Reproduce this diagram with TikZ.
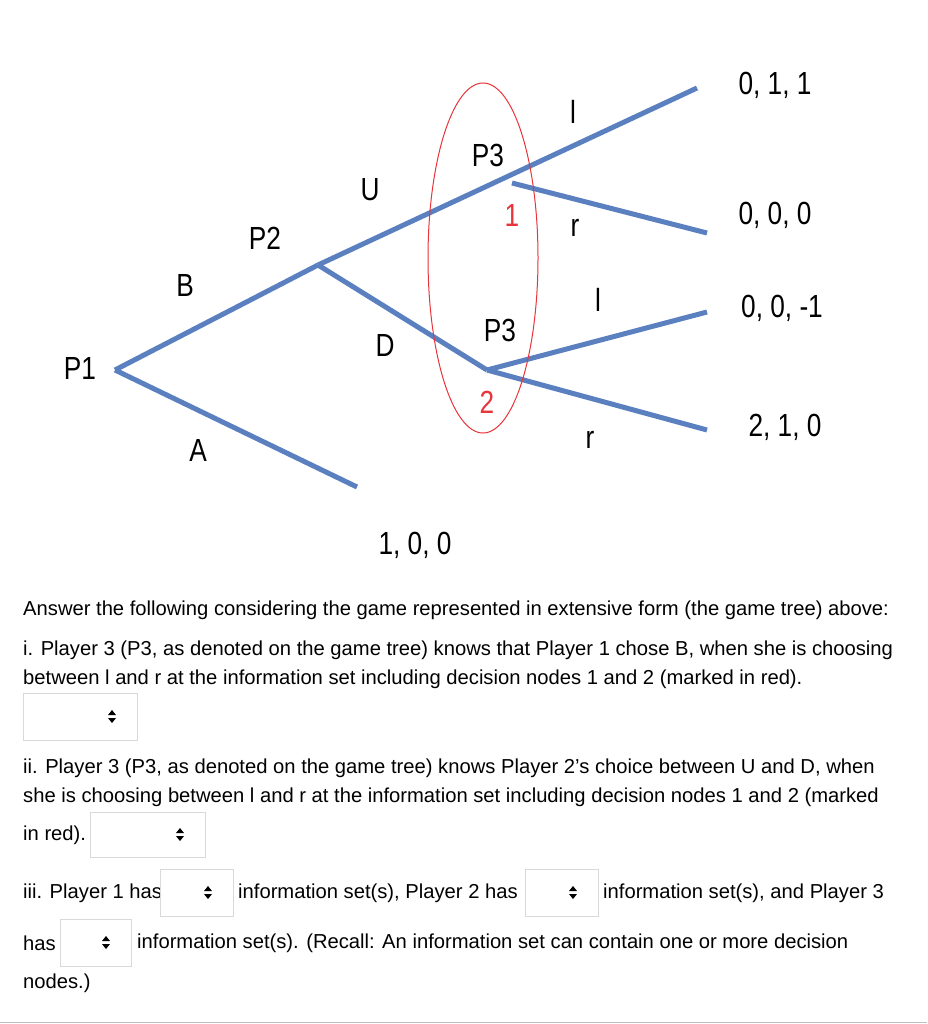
\documentclass[tikz,border=0pt]{standalone}
\usepackage{fontspec}
\setmainfont{Liberation Sans}
\usepackage{graphicx}
\definecolor{br}{HTML}{5B80C0}
\definecolor{rd}{HTML}{E8343A}
\newcommand{\cnd}[1]{\scalebox{0.82}[1]{#1}}
\begin{document}
\begin{tikzpicture}[x=1pt,y=-1pt,
  branch/.style={draw=br,line width=5pt},
  lab/.style={font=\fontsize{32}{34}\selectfont,inner sep=0pt},
  txt/.style={font=\fontsize{20.2}{22}\selectfont,anchor=west,inner sep=0pt}]
\useasboundingbox[fill=white] (0,0) rectangle (927,1024);
\coordinate (n1) at (115,370);
\coordinate (n2) at (318,265);
\coordinate (tA) at (357,487);
\coordinate (n3) at (512,183);
\coordinate (t1) at (697,88);
\coordinate (t2) at (707,233);
\coordinate (n4) at (487,370);
\coordinate (t3) at (707,312);
\coordinate (t4) at (707,430);
\draw[branch] (n1)--(n2);
\draw[branch] (n1)--(tA);
\draw[branch] (n2)--(t1);
\draw[branch] (n3)--(t2);
\draw[branch] (n2)--(n4);
\draw[branch] (n4)--(t3);
\draw[branch] (n4)--(t4);
\draw[rd,line width=1pt] (483,258) ellipse [x radius=55,y radius=175];
\node[lab] at (775,85) {\cnd{0, 1, 1}};
\node[lab] at (775,215) {\cnd{0, 0, 0}};
\node[lab] at (782,308) {\cnd{0, 0, -1}};
\node[lab] at (785,427) {\cnd{2, 1, 0}};
\node[lab] at (415,545) {\cnd{1, 0, 0}};
\node[lab] at (80,368) {\cnd{P1}};
\node[lab] at (185,285) {\cnd{B}};
\node[lab] at (198,450) {\cnd{A}};
\node[lab] at (265,238) {\cnd{P2}};
\node[lab] at (370,190) {\cnd{U}};
\node[lab] at (385,345) {\cnd{D}};
\node[lab] at (488,155) {\cnd{P3}};
\node[lab,text=rd] at (512,215) {\cnd{1}};
\node[lab] at (500,330) {\cnd{P3}};
\node[lab,text=rd] at (487,402) {\cnd{2}};
\node[lab] at (573,112) {\cnd{l}};
\node[lab] at (575,228) {\cnd{r}};
\node[lab] at (598,300) {\cnd{l}};
\node[lab] at (590,440) {\cnd{r}};
\node[txt] at (23,610) {Answer the following considering the game represented in extensive form (the game tree) above:};
\node[txt] at (23,650) {i. Player 3 (P3, as denoted on the game tree) knows that Player 1 chose B, when she is choosing};
\node[txt] at (23,679) {between l and r at the information set including decision nodes 1 and 2 (marked in red).};
\node[txt] at (23,768) {ii. Player 3 (P3, as denoted on the game tree) knows Player 2's choice between U and D, when};
\node[txt] at (23,797) {she is choosing between l and r at the information set including decision nodes 1 and 2 (marked};
\node[txt] at (23,835) {in red).};
\node[txt] at (23,893) {iii. Player 1 has};
\node[txt] at (238,893) {information set(s), Player 2 has};
\node[txt] at (603,893) {information set(s), and Player 3};
\node[txt] at (23,943) {has};
\node[txt] at (137,943) {information set(s). (Recall: An information set can contain one or more decision};
\node[txt] at (23,983) {nodes.)};
\foreach \nm/\xa/\ya/\xb/\yb in {d1/23/693/137/740, d2/90/812/205/857, d3/160/869/233/916, d4/525/869/598/916, d5/60/919/131/966}{
  \draw[black!15,line width=0.8pt] (\xa,\ya) rectangle (\xb,\yb);
  \coordinate (\nm) at ({\xb-25},{(\ya+\yb)/2});
  \fill (\nm) ++(-4,-1.5) -- ++(8,0) -- ++(-4,-5) -- cycle;
  \fill (\nm) ++(-4,1.5) -- ++(8,0) -- ++(-4,5) -- cycle;
}
\draw[black!25,line width=1pt] (0,1022)--(927,1022);
\end{tikzpicture}
\end{document}
